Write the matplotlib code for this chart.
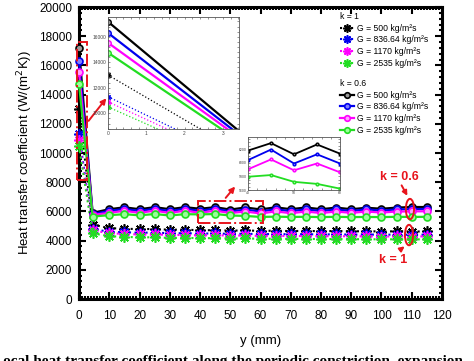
import matplotlib
matplotlib.use('Agg')
import matplotlib.pyplot as plt
from matplotlib.patches import Ellipse, Rectangle
from matplotlib.ticker import MultipleLocator

plt.rcParams['font.family'] = ['Liberation Sans', 'DejaVu Sans']

# ---- data ----
y_mm = [0, 4.5, 10, 15, 20, 25, 30, 35, 40, 45, 50, 55, 60, 65, 70, 75,
        80, 85, 90, 95, 100, 105, 110, 115]

# k = 0.6 (solid, circles)
h06_500  = [17180, 5900, 6150, 6280, 6150, 6290, 6150, 6290, 6180, 6290, 6125, 6270,
            6135, 6280, 6150, 6270, 6150, 6260, 6150, 6250, 6180, 6260, 6300, 6300]
h06_836  = [16300, 5820, 6030, 6170, 6030, 6180, 6020, 6180, 6040, 6195, 5990, 6125,
            5990, 6160, 6010, 6150, 6020, 6150, 6020, 6150, 6050, 6140, 6150, 6170]
h06_1170 = [15530, 5760, 5900, 6040, 5900, 6050, 5890, 6050, 5905, 6050, 5890, 5990,
            5860, 6000, 5880, 5990, 5890, 5990, 5900, 5990, 5920, 5990, 6000, 6010]
h06_2535 = [14750, 5650, 5740, 5810, 5730, 5820, 5720, 5810, 5795, 5820, 5720, 5690,
            5620, 5640, 5620, 5630, 5610, 5630, 5610, 5620, 5610, 5630, 5620, 5630]

# k = 1 (dotted, stars)
h1_500  = [13000, 5100, 4850, 4820, 4780, 4800, 4740, 4760, 4700, 4720, 4680, 4700,
           4660, 4680, 4650, 4670, 4640, 4660, 4630, 4650, 4620, 4640, 4620, 4630]
h1_836  = [11300, 4800, 4600, 4570, 4540, 4550, 4500, 4510, 4480, 4490, 4460, 4470,
           4440, 4450, 4430, 4440, 4420, 4430, 4410, 4420, 4400, 4410, 4400, 4410]
h1_1170 = [10900, 4700, 4500, 4460, 4420, 4430, 4380, 4390, 4360, 4370, 4340, 4350,
           4320, 4330, 4310, 4320, 4300, 4310, 4290, 4300, 4280, 4290, 4280, 4290]
h1_2535 = [10500, 4500, 4300, 4260, 4220, 4230, 4180, 4190, 4160, 4170, 4140, 4150,
           4120, 4130, 4110, 4120, 4100, 4110, 4090, 4100, 4080, 4090, 4080, 4090]

labels = ['G = 500 kg/m²s', 'G = 836.64 kg/m²s',
          'G = 1170 kg/m²s', 'G = 2535 kg/m²s']
colors = ['black', '#0000ee', '#ff00ff', '#22dd22']
faces  = ['#9a9a9a', '#7f7fff', '#ff9fff', '#99ff99']
k06 = [h06_500, h06_836, h06_1170, h06_2535]
k1  = [h1_500, h1_836, h1_1170, h1_2535]
STAR = (8, 2, 0)

fig = plt.figure(figsize=(4.74, 3.61), dpi=100)
ax = fig.add_axes([79/474, 1-299/361, 363/474, 292/361])

h_k1, h_k06 = [], []
for vals, c in zip(k1, colors):
    l, = ax.plot(y_mm, vals, ls=':', lw=1.5, color=c, marker=STAR, ms=7.5,
                 mew=1.2, clip_on=False, zorder=3)
    h_k1.append(l)
for vals, c, f in zip(k06, colors, faces):
    l, = ax.plot(y_mm, vals, ls='-', lw=1.6, color=c, marker='o', ms=5,
                 mfc=f, mec=c, mew=1.2, clip_on=False, zorder=4)
    h_k06.append(l)

ax.set_xlim(0, 120)
ax.set_ylim(0, 20000)
ax.xaxis.set_major_locator(MultipleLocator(10))
ax.xaxis.set_minor_locator(MultipleLocator(1))
ax.yaxis.set_major_locator(MultipleLocator(2000))
ax.yaxis.set_minor_locator(MultipleLocator(400))
ax.tick_params(which='both', direction='in', top=True, right=True, width=1.5,
               labelsize=8.5, pad=5)
ax.tick_params(axis='x', pad=8)
ax.tick_params(which='major', length=5)
ax.tick_params(which='minor', length=2.5)
for s in ax.spines.values():
    s.set_linewidth(2.2)
ax.set_xlabel('y (mm)', fontsize=9.5, labelpad=9)
ax.set_ylabel('Heat transfer coefficient (W/(m$^2$K))', fontsize=9.5, labelpad=3)

# legends
leg_kw = dict(loc='upper left', bbox_transform=fig.transFigure, frameon=False,
              fontsize=6.2, title_fontsize=6.2, handlelength=1.6, handletextpad=0.3,
              labelspacing=0.3, borderpad=0, alignment='left', markerscale=0.8)
leg1 = ax.legend(h_k1, labels, title='k = 1',
                 bbox_to_anchor=(336/474, 1-8/361), **leg_kw)
ax.add_artist(leg1)
leg2 = ax.legend(h_k06, labels, title='k = 0.6',
                 bbox_to_anchor=(336/474, 1-75/361), **leg_kw)

# red markups
red = '#e8141c'
ax.add_patch(Rectangle((-0.7, 8150), 3.3, 9450, fill=False, ec=red, ls='-.',
                       lw=1.4, clip_on=False, zorder=6))
ax.add_patch(Rectangle((39.3, 5230), 21.4, 1480, fill=False, ec=red, ls='-.',
                       lw=1.4, zorder=6))
ax.annotate('', xy=(9.6, 13900), xytext=(2.6, 12050),
            arrowprops=dict(arrowstyle='-|>', color=red, lw=1.4, mutation_scale=8))
ax.annotate('', xy=(52.2, 7850), xytext=(47.9, 6780),
            arrowprops=dict(arrowstyle='-|>', color=red, lw=1.4, mutation_scale=8))
ax.add_patch(Ellipse((109.4, 6160), 2.7, 1400, fill=False, ec=red, lw=1.4, zorder=6))
ax.add_patch(Ellipse((109.1, 4380), 2.7, 1400, fill=False, ec=red, lw=1.4, zorder=6))
ax.annotate('', xy=(109.0, 6900), xytext=(106.2, 7950),
            arrowprops=dict(arrowstyle='-|>', color=red, lw=1.4, mutation_scale=7))
ax.annotate('', xy=(108.4, 3720), xytext=(105.4, 3250),
            arrowprops=dict(arrowstyle='-|>', color=red, lw=1.4, mutation_scale=7))
ax.text(105.8, 8350, 'k = 0.6', color=red, fontsize=9, fontweight='bold',
        ha='center', va='center')
ax.text(103.8, 2650, 'k = 1', color=red, fontsize=9, fontweight='bold',
        ha='center', va='center')

# inset 1: near inlet
ins1 = fig.add_axes([108/474, 1-129/361, 131/474, 112/361])
for vals, c in zip(k1, colors):
    ins1.plot(y_mm, vals, ls=':', lw=0.9, color=c, marker=STAR, ms=4, mew=0.8)
for vals, c, f in zip(k06, colors, faces):
    ins1.plot(y_mm, vals, ls='-', lw=1.6, color=c, marker='o', ms=4, mfc=f, mec=c)
ins1.set_xlim(0, 3.42)
ins1.set_ylim(8770, 17550)
ins1.set_xticks([0, 1, 2, 3])
ins1.set_yticks([10000, 12000, 14000, 16000])
ins1.xaxis.set_minor_locator(MultipleLocator(0.2))
ins1.yaxis.set_minor_locator(MultipleLocator(400))
ins1.tick_params(which='both', direction='in', top=True, right=True, labelsize=3.5,
                 width=0.4, length=1.5, pad=1.5, colors='#444444')
for s in ins1.spines.values():
    s.set_linewidth(0.6)
    s.set_color('#555555')

# inset 2: periodic zone
ins2 = fig.add_axes([248/474, 1-190/361, 92/474, 53/361])
for vals, c, f in zip(k06, colors, faces):
    ins2.plot(y_mm, vals, ls='-', lw=1.3, color=c, marker='o', ms=2, mfc=f, mec=c)
ins2.set_xlim(40, 60)
ins2.set_ylim(5600, 6380)
ins2.set_xticks([40, 50, 60])
ins2.set_yticks([5600, 5800, 6000, 6200])
ins2.xaxis.set_minor_locator(MultipleLocator(2))
ins2.yaxis.set_minor_locator(MultipleLocator(50))
ins2.tick_params(which='both', direction='in', top=True, right=True, labelsize=2.5,
                 width=0.4, length=1.2, pad=1, colors='#444444')
for s in ins2.spines.values():
    s.set_linewidth(0.6)
    s.set_color('#555555')

# cut-off caption at the bottom edge
fig.text(-0.014, -0.012, 'Local heat transfer coefficient along the periodic constriction, expansion',
         fontsize=11, fontweight='bold', family='Liberation Serif', ha='left', va='baseline')

fig.savefig('out.png', dpi=100)
plt.close(fig)
